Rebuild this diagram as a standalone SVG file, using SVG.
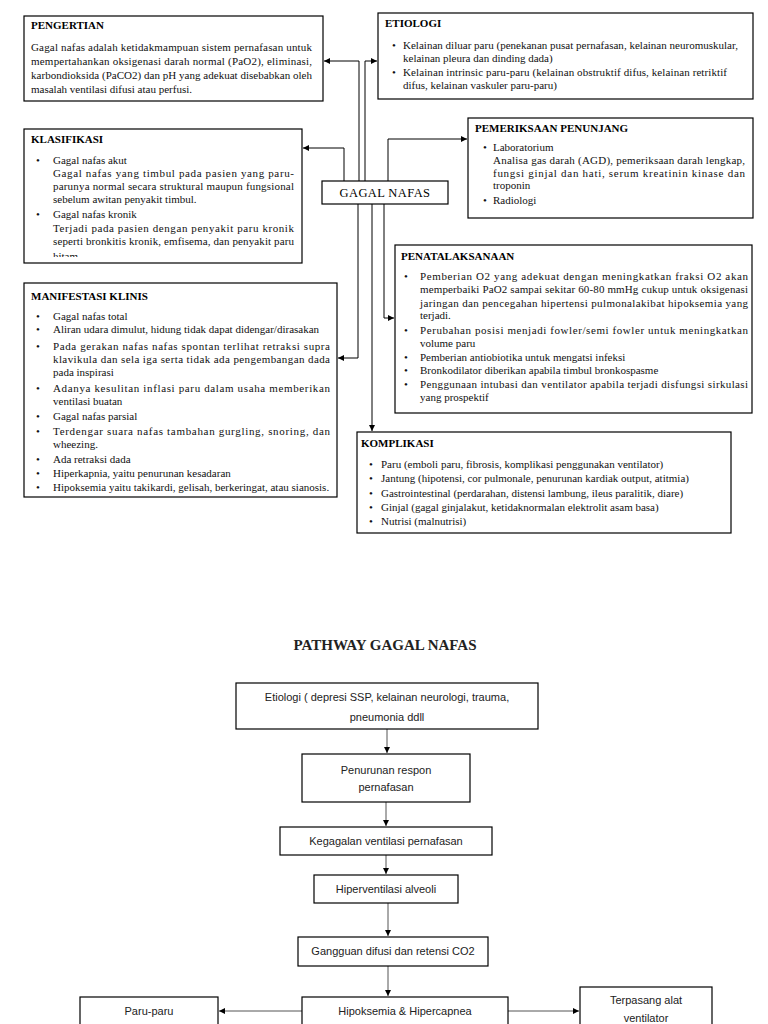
<svg xmlns="http://www.w3.org/2000/svg" width="768" height="1024" viewBox="0 0 768 1024">
<defs>
<style>
.box{fill:#fff;stroke:#000;stroke-width:1.2}
.t{font-family:"Liberation Serif","Times New Roman",serif;font-size:11px;fill:#111}
.h{font-family:"Liberation Serif","Times New Roman",serif;font-size:11px;font-weight:bold;fill:#000}
.p{font-family:"Liberation Sans",Arial,sans-serif;font-size:11px;fill:#222;text-anchor:middle}
.ln{fill:none;stroke:#000;stroke-width:1}
.lg{fill:none;stroke:#555;stroke-width:1}
</style>
<marker id="ar" viewBox="0 0 6 6" refX="6" refY="3" markerWidth="6" markerHeight="6" markerUnits="userSpaceOnUse" orient="auto"><path d="M0,0 L6,3 L0,6 z" fill="#000"/></marker>
<clipPath id="cKlas"><rect x="24" y="129" width="278" height="128"/></clipPath>
</defs>
<rect width="768" height="1024" fill="#fff"/>

<g id="pengertian">
<rect class="box" x="24" y="16" width="299" height="85"/>
<text class="h" x="31" y="29">PENGERTIAN</text>
<text class="t" x="31" y="51" textLength="281" lengthAdjust="spacing">Gagal nafas adalah ketidakmampuan sistem pernafasan untuk</text>
<text class="t" x="31" y="65" textLength="281" lengthAdjust="spacing">mempertahankan oksigenasi darah normal (PaO2), eliminasi,</text>
<text class="t" x="31" y="79" textLength="281" lengthAdjust="spacing">karbondioksida (PaCO2) dan pH yang adekuat disebabkan oleh</text>
<text class="t" x="31" y="93">masalah ventilasi difusi atau perfusi.</text>
</g>

<g id="etiologi">
<rect class="box" x="378" y="13" width="375" height="86"/>
<text class="h" x="385" y="27">ETIOLOGI</text>
<text class="t" x="392" y="49">•</text>
<text class="t" x="392" y="76">•</text>
<text class="t" x="403" y="49" textLength="335" lengthAdjust="spacing">Kelainan diluar paru (penekanan pusat pernafasan, kelainan neuromuskular,</text>
<text class="t" x="403" y="62">kelainan pleura dan dinding dada)</text>
<text class="t" x="403" y="76" textLength="324" lengthAdjust="spacing">Kelainan intrinsic paru-paru (kelainan obstruktif difus, kelainan retriktif</text>
<text class="t" x="403" y="89">difus, kelainan vaskuler paru-paru)</text>
</g>

<g id="klasifikasi">
<rect class="box" x="24" y="129" width="278" height="134"/>
<text class="h" x="31" y="143">KLASIFIKASI</text>
<text class="t" x="36" y="164">•</text>
<text class="t" x="36" y="218">•</text>
<g clip-path="url(#cKlas)">
<text class="t" x="53" y="164">Gagal nafas akut</text>
<text class="t" x="53" y="177" textLength="241" lengthAdjust="spacing">Gagal nafas yang timbul pada pasien yang paru-</text>
<text class="t" x="53" y="190" textLength="241" lengthAdjust="spacing">parunya normal secara struktural maupun fungsional</text>
<text class="t" x="53" y="203">sebelum awitan penyakit timbul.</text>
<text class="t" x="53" y="218">Gagal nafas kronik</text>
<text class="t" x="53" y="232" textLength="241" lengthAdjust="spacing">Terjadi pada pasien dengan penyakit paru kronik</text>
<text class="t" x="53" y="245" textLength="241" lengthAdjust="spacing">seperti bronkitis kronik, emfisema, dan penyakit paru</text>
<text class="t" x="53" y="260">hitam</text>
</g>
</g>

<g id="pemeriksaan">
<rect class="box" x="468" y="118" width="285" height="100"/>
<text class="h" x="475" y="132">PEMERIKSAAN PENUNJANG</text>
<text class="t" x="483" y="151">•</text>
<text class="t" x="483" y="204">•</text>
<text class="t" x="493" y="151">Laboratorium</text>
<text class="t" x="493" y="164" textLength="252" lengthAdjust="spacing">Analisa gas darah (AGD), pemeriksaan darah lengkap,</text>
<text class="t" x="493" y="177" textLength="252" lengthAdjust="spacing">fungsi ginjal dan hati, serum kreatinin kinase dan</text>
<text class="t" x="493" y="189">troponin</text>
<text class="t" x="493" y="204">Radiologi</text>
</g>

<g id="gagal-nafas">
<rect class="box" x="322" y="181" width="126" height="23"/>
<text x="385" y="197" text-anchor="middle" style="font-family:'Liberation Serif','Times New Roman',serif;font-size:12.5px;fill:#000;letter-spacing:0.4px">GAGAL NAFAS</text>
</g>

<g id="penatalaksanaan">
<rect class="box" x="395" y="245" width="357" height="168"/>
<text class="h" x="401" y="260">PENATALAKSANAAN</text>
<text class="t" x="404" y="280">•</text>
<text class="t" x="404" y="334">•</text>
<text class="t" x="404" y="361">•</text>
<text class="t" x="404" y="374">•</text>
<text class="t" x="404" y="388">•</text>
<text class="t" x="420" y="280" textLength="328" lengthAdjust="spacing">Pemberian O2 yang adekuat dengan meningkatkan fraksi O2 akan</text>
<text class="t" x="420" y="293" textLength="328" lengthAdjust="spacing">memperbaiki PaO2 sampai sekitar 60-80 mmHg cukup untuk oksigenasi</text>
<text class="t" x="420" y="307" textLength="328" lengthAdjust="spacing">jaringan dan pencegahan hipertensi pulmonalakibat hipoksemia yang</text>
<text class="t" x="420" y="319">terjadi.</text>
<text class="t" x="420" y="334" textLength="328" lengthAdjust="spacing">Perubahan posisi menjadi fowler/semi fowler untuk meningkatkan</text>
<text class="t" x="420" y="347">volume paru</text>
<text class="t" x="420" y="361">Pemberian antiobiotika untuk mengatsi infeksi</text>
<text class="t" x="420" y="374">Bronkodilator diberikan apabila timbul bronkospasme</text>
<text class="t" x="420" y="388" textLength="328" lengthAdjust="spacing">Penggunaan intubasi dan ventilator apabila terjadi disfungsi sirkulasi</text>
<text class="t" x="420" y="401">yang prospektif</text>
</g>

<g id="manifestasi">
<rect class="box" x="24" y="283" width="313" height="214"/>
<text class="h" x="31" y="300">MANIFESTASI KLINIS</text>
<text class="t" x="36" y="320">•</text>
<text class="t" x="36" y="333">•</text>
<text class="t" x="36" y="350">•</text>
<text class="t" x="36" y="392">•</text>
<text class="t" x="36" y="420">•</text>
<text class="t" x="36" y="435">•</text>
<text class="t" x="36" y="463">•</text>
<text class="t" x="36" y="477">•</text>
<text class="t" x="36" y="491">•</text>
<text class="t" x="53" y="320">Gagal nafas total</text>
<text class="t" x="53" y="333">Aliran udara dimulut, hidung tidak dapat didengar/dirasakan</text>
<text class="t" x="53" y="350" textLength="277" lengthAdjust="spacing">Pada gerakan nafas nafas spontan terlihat retraksi supra</text>
<text class="t" x="53" y="363" textLength="277" lengthAdjust="spacing">klavikula dan sela iga serta tidak ada pengembangan dada</text>
<text class="t" x="53" y="376">pada inspirasi</text>
<text class="t" x="53" y="392" textLength="277" lengthAdjust="spacing">Adanya kesulitan inflasi paru dalam usaha memberikan</text>
<text class="t" x="53" y="405">ventilasi buatan</text>
<text class="t" x="53" y="420">Gagal nafas parsial</text>
<text class="t" x="53" y="435" textLength="277" lengthAdjust="spacing">Terdengar suara nafas tambahan gurgling, snoring, dan</text>
<text class="t" x="53" y="448">wheezing.</text>
<text class="t" x="53" y="463">Ada retraksi dada</text>
<text class="t" x="53" y="477">Hiperkapnia, yaitu penurunan kesadaran</text>
<text class="t" x="53" y="491">Hipoksemia yaitu takikardi, gelisah, berkeringat, atau sianosis.</text>
</g>

<g id="komplikasi">
<rect class="box" x="357" y="432" width="374" height="101"/>
<text class="h" x="361" y="447">KOMPLIKASI</text>
<text class="t" x="369" y="468">•</text>
<text class="t" x="369" y="482">•</text>
<text class="t" x="369" y="497">•</text>
<text class="t" x="369" y="511">•</text>
<text class="t" x="369" y="525">•</text>
<text class="t" x="381" y="468">Paru (emboli paru, fibrosis, komplikasi penggunakan ventilator)</text>
<text class="t" x="381" y="482">Jantung (hipotensi, cor pulmonale, penurunan kardiak output, atitmia)</text>
<text class="t" x="381" y="497">Gastrointestinal (perdarahan, distensi lambung, ileus paralitik, diare)</text>
<text class="t" x="381" y="511">Ginjal (gagal ginjalakut, ketidaknormalan elektrolit asam basa)</text>
<text class="t" x="381" y="525">Nutrisi (malnutrisi)</text>
</g>

<g id="connectors">
<polyline class="ln" points="359,181 359,61 324,61" marker-end="url(#ar)"/>
<polyline class="ln" points="365,181 365,61 377,61" marker-end="url(#ar)"/>
<polyline class="ln" points="344,181 344,148 303,148" marker-end="url(#ar)"/>
<polyline class="ln" points="388,181 388,139 467,139" marker-end="url(#ar)"/>
<polyline class="ln" points="358,204 358,358 338,358" marker-end="url(#ar)"/>
<polyline class="ln" points="372,204 372,431" marker-end="url(#ar)"/>
<polyline class="ln" points="384,204 384,318 394,318" marker-end="url(#ar)"/>
<line class="lg" x1="387" y1="729" x2="387" y2="753" marker-end="url(#ar)"/>
<line class="lg" x1="386" y1="802" x2="386" y2="826" marker-end="url(#ar)"/>
<line class="lg" x1="386" y1="855" x2="386" y2="874" marker-end="url(#ar)"/>
<line class="lg" x1="388" y1="903" x2="388" y2="936" marker-end="url(#ar)"/>
<line class="lg" x1="388" y1="966" x2="388" y2="996" marker-end="url(#ar)"/>
<line class="lg" x1="302" y1="1011" x2="219" y2="1011" marker-end="url(#ar)"/>
<line class="lg" x1="508" y1="1011" x2="579" y2="1011" marker-end="url(#ar)"/>
</g>

<text x="385" y="650" text-anchor="middle" style="font-family:'Liberation Serif','Times New Roman',serif;font-size:15px;font-weight:bold;fill:#222">PATHWAY GAGAL NAFAS</text>

<g id="p-etiologi">
<rect class="box" x="236" y="683" width="302" height="46"/>
<text class="p" x="387" y="701">Etiologi ( depresi SSP, kelainan neurologi, trauma,</text>
<text class="p" x="387" y="721">pneumonia ddll</text>
</g>
<g id="p-penurunan">
<rect class="box" x="302" y="754" width="168" height="48"/>
<text class="p" x="386" y="774">Penurunan respon</text>
<text class="p" x="386" y="791">pernafasan</text>
</g>
<g id="p-kegagalan">
<rect class="box" x="280" y="827" width="212" height="28"/>
<text class="p" x="386" y="845">Kegagalan ventilasi pernafasan</text>
</g>
<g id="p-hiperventilasi">
<rect class="box" x="314" y="875" width="144" height="28"/>
<text class="p" x="386" y="893">Hiperventilasi alveoli</text>
</g>
<g id="p-gangguan">
<rect class="box" x="298" y="937" width="190" height="29"/>
<text class="p" x="393" y="955">Gangguan difusi dan retensi CO2</text>
</g>
<g id="p-hipoksemia">
<rect class="box" x="302" y="997" width="206" height="40"/>
<text class="p" x="405" y="1015">Hipoksemia &amp; Hipercapnea</text>
</g>
<g id="p-paru">
<rect class="box" x="80" y="997" width="138" height="40"/>
<text class="p" x="149" y="1015">Paru-paru</text>
</g>
<g id="p-ventilator">
<rect class="box" x="580" y="987" width="132" height="50"/>
<text class="p" x="646" y="1004">Terpasang alat</text>
<text class="p" x="646" y="1022">ventilator</text>
</g>
</svg>
